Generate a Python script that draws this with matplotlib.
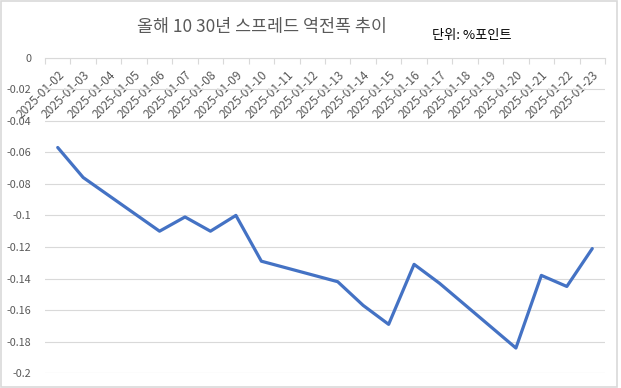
import matplotlib
matplotlib.use("Agg")
import matplotlib.pyplot as plt
from matplotlib.patches import Rectangle

plt.rcParams['font.family'] = ['Noto Sans CJK KR', 'DejaVu Sans']

categories = ['2025-01-%02d' % d for d in range(2, 24)]
obs_dates = ['2025-01-02', '2025-01-03', '2025-01-06', '2025-01-07', '2025-01-08',
             '2025-01-09', '2025-01-10', '2025-01-13', '2025-01-14', '2025-01-15',
             '2025-01-16', '2025-01-17', '2025-01-20', '2025-01-21', '2025-01-22',
             '2025-01-23']
spread = [-0.057, -0.076, -0.110, -0.101, -0.110, -0.100, -0.129, -0.142, -0.157,
          -0.169, -0.131, -0.143, -0.184, -0.138, -0.145, -0.121]
yticks = [0, -0.02, -0.04, -0.06, -0.08, -0.1, -0.12, -0.14, -0.16, -0.18, -0.2]
ytick_labels = ['0', '-0.02', '-0.04', '-0.06', '-0.08', '-0.1', '-0.12', '-0.14',
                '-0.16', '-0.18', '-0.2']
title = '올해 10 30년 스프레드 역전폭 추이'
unit = '단위: %포인트'

W, H = 621, 388
fig = plt.figure(figsize=(W / 100, H / 100), dpi=100)
fig.patches.append(Rectangle((0.5 / W, 1.5 / H), 616 / W, 385.5 / H, transform=fig.transFigure,
                             fill=False, edgecolor='#D9D9D9', linewidth=1.2))

ax = fig.add_axes([45 / W, 14.7 / H, 560 / W, 315.8 / H])
xs = [categories.index(d) for d in obs_dates]
ax.plot(xs, spread, color='#4472C4', linewidth=2.3, solid_capstyle='round', zorder=3)

ax.set_xlim(-0.5, len(categories) - 0.5)
ax.set_ylim(-0.2, 0)
ax.set_yticks(yticks)
ax.set_yticklabels(ytick_labels)
ax.grid(axis='y', color='#D9D9D9', linewidth=0.8)
ax.set_axisbelow(True)

for s in ['top', 'right', 'left']:
    ax.spines[s].set_visible(False)
ax.spines['bottom'].set_position(('data', 0))
ax.spines['bottom'].set_color('#D9D9D9')
ax.spines['bottom'].set_linewidth(0.8)

ax.set_xticks([i - 0.5 for i in range(len(categories) + 1)])
ax.set_xticklabels([])
ax.set_xticks(range(len(categories)), minor=True)
ax.set_xticklabels(categories, minor=True, rotation=45, ha='right', va='top',
                   rotation_mode='anchor', fontsize=8.6, color='#595959')
ax.tick_params(axis='x', which='major', length=4, color='#D9D9D9', width=0.8)
ax.tick_params(axis='x', which='minor', length=0, pad=8)
ax.tick_params(axis='y', length=0, pad=10, labelsize=7.8, labelcolor='#595959')

fig.text(262 / W, 1 - 27 / H, title, ha='center', va='center', fontsize=12.5, color='#595959')
fig.text(432 / W, 1 - 35 / H, unit, ha='left', va='center', fontsize=9.5, color='#000000',
         fontweight='medium')

fig.savefig('out.png', dpi=100)
